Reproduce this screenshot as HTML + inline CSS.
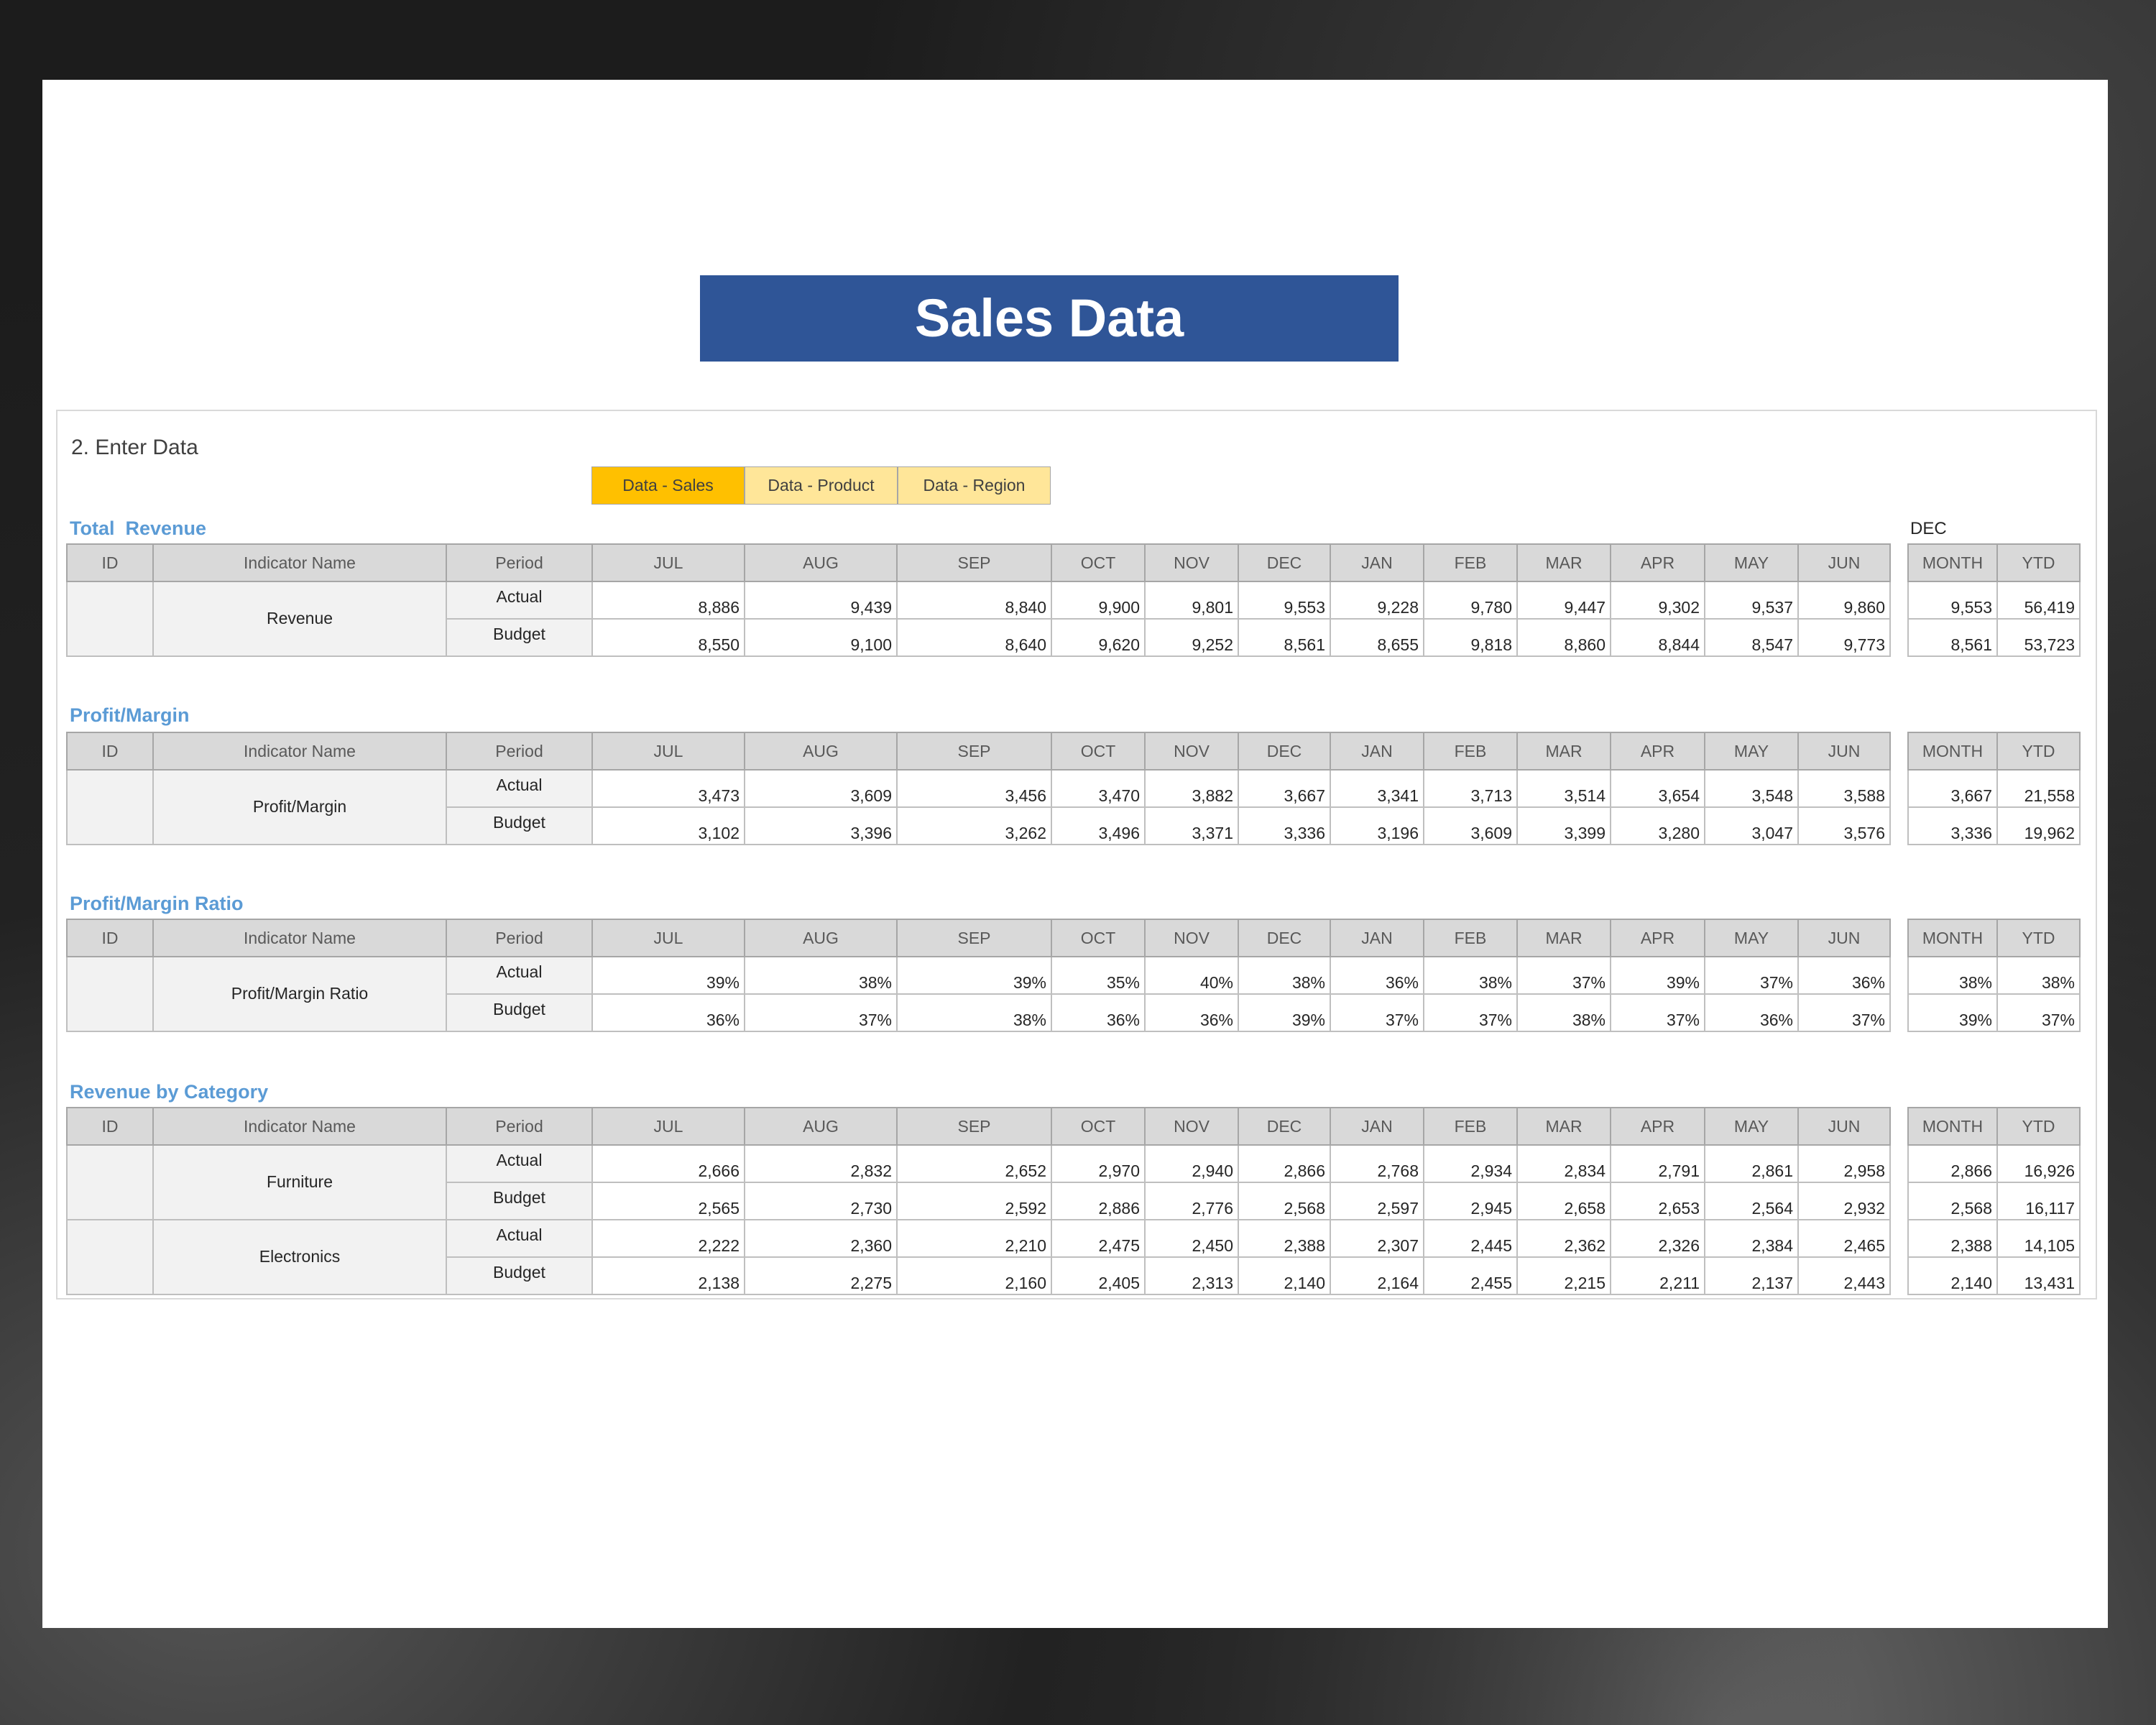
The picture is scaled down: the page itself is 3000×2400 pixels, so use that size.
<!DOCTYPE html>
<html><head><meta charset="utf-8"><style>
body{margin:0;width:3000px;height:2400px;overflow:hidden;background:#2b2b2b;background-image:radial-gradient(ellipse at 10% 90%,#555 0,#222 30%,transparent 60%),radial-gradient(ellipse at 80% 100%,#666 0,#333 25%,transparent 50%),radial-gradient(ellipse at 90% 10%,#444 0,#1c1c1c 40%);font-family:"Liberation Sans",sans-serif;position:relative}
.page{position:absolute;left:59px;top:111px;width:2874px;height:2154px;background:#fff}
.title{position:absolute;left:974px;top:383px;width:972px;height:120px;background:#2F5597;color:#fff;font-weight:bold;font-size:74px;text-align:center;line-height:120px}
.panel{position:absolute;left:78px;top:570px;width:2836px;height:1234px;border:2px solid #d9d9d9;background:#fff}
.t{position:absolute;font-size:30px;color:#404040}
.sec{position:absolute;left:97px;font-size:27px;font-weight:bold;color:#5B9BD5}
.btn{position:absolute;top:649px;height:51px;width:211px;border:1px solid #a6a6a6;font-size:23px;line-height:51px;text-align:center;color:#404040}
table{position:absolute;border-collapse:collapse;table-layout:fixed;font-size:23px;color:#262626}
tr{height:52px}
td{border:2px solid #bfbfbf;padding:0 6px;white-space:nowrap;overflow:hidden;line-height:24px}
tr.h td{background:#d9d9d9;color:#595959;text-align:center;border-color:#a6a6a6}
tr.r td{text-align:right;vertical-align:bottom;padding-bottom:3px}
td.g{background:#f2f2f2;text-align:center !important;vertical-align:middle !important;color:#262626}
td.p{background:#f2f2f2;text-align:center !important;vertical-align:top !important;padding-top:8px}
</style></head><body>
<div class="page"></div>
<div class="title">Sales Data</div>
<div class="panel"></div>
<div class="t" style="left:99px;top:606px">2. Enter Data</div>
<div class="btn" style="left:823px;background:#FFC000">Data - Sales</div>
<div class="btn" style="left:1036px;background:#FFE699">Data - Product</div>
<div class="btn" style="left:1249px;background:#FFE699">Data - Region</div>
<div class="t" style="left:2658px;top:722px;font-size:24px;color:#262626">DEC</div>

<div class="sec" style="top:720px">Total&nbsp; Revenue</div>
<div class="sec" style="top:980px">Profit/Margin</div>
<div class="sec" style="top:1242px">Profit/Margin Ratio</div>
<div class="sec" style="top:1504px">Revenue by Category</div>

<script>
const W=[120,408,203,212,212,215,130,130,128,130,130,130,131,130,128];
const M=["JUL","AUG","SEP","OCT","NOV","DEC","JAN","FEB","MAR","APR","MAY","JUN"];
function cg(w){return '<colgroup>'+w.map(x=>'<col style="width:'+x+'px">').join('')+'</colgroup>';}
function tab(top,groups){
 let h='<table style="left:92px;top:'+top+'px;width:2537px">'+cg(W)+'<tr class="h"><td>ID</td><td>Indicator Name</td><td>Period</td>'+M.map(m=>'<td>'+m+'</td>').join('')+'</tr>';
 let s='<table style="left:2654px;top:'+top+'px;width:239px">'+cg([124,115])+'<tr class="h"><td>MONTH</td><td>YTD</td></tr>';
 groups.forEach(g=>{
  ['Actual','Budget'].forEach((p,i)=>{
   h+='<tr class="r">'+(i==0?'<td class="g" rowspan="2"></td><td class="g" rowspan="2">'+g[0]+'</td>':'')+'<td class="p">'+p+'</td>'+g[1+i].slice(0,12).map(v=>'<td>'+v+'</td>').join('')+'</tr>';
   s+='<tr class="r">'+g[1+i].slice(12).map(v=>'<td>'+v+'</td>').join('')+'</tr>';
  });
 });
 document.write(h+'</table>'+s+'</table>');
}
const sp=x=>x.split(' ');
tab(756,[["Revenue",sp("8,886 9,439 8,840 9,900 9,801 9,553 9,228 9,780 9,447 9,302 9,537 9,860 9,553 56,419"),sp("8,550 9,100 8,640 9,620 9,252 8,561 8,655 9,818 8,860 8,844 8,547 9,773 8,561 53,723")]]);
tab(1018,[["Profit/Margin",sp("3,473 3,609 3,456 3,470 3,882 3,667 3,341 3,713 3,514 3,654 3,548 3,588 3,667 21,558"),sp("3,102 3,396 3,262 3,496 3,371 3,336 3,196 3,609 3,399 3,280 3,047 3,576 3,336 19,962")]]);
tab(1278,[["Profit/Margin Ratio",sp("39% 38% 39% 35% 40% 38% 36% 38% 37% 39% 37% 36% 38% 38%"),sp("36% 37% 38% 36% 36% 39% 37% 37% 38% 37% 36% 37% 39% 37%")]]);
tab(1540,[["Furniture",sp("2,666 2,832 2,652 2,970 2,940 2,866 2,768 2,934 2,834 2,791 2,861 2,958 2,866 16,926"),sp("2,565 2,730 2,592 2,886 2,776 2,568 2,597 2,945 2,658 2,653 2,564 2,932 2,568 16,117")],["Electronics",sp("2,222 2,360 2,210 2,475 2,450 2,388 2,307 2,445 2,362 2,326 2,384 2,465 2,388 14,105"),sp("2,138 2,275 2,160 2,405 2,313 2,140 2,164 2,455 2,215 2,211 2,137 2,443 2,140 13,431")]]);
</script>
</body></html>
